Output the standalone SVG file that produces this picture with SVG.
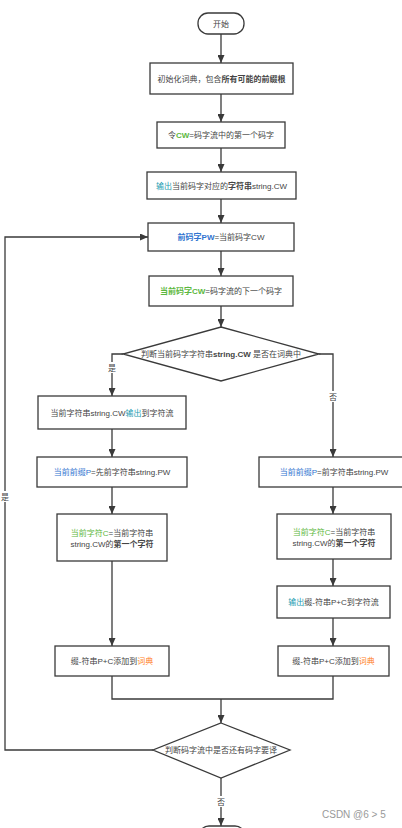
<svg xmlns="http://www.w3.org/2000/svg" width="402" height="828" viewBox="0 0 402 828">
<style>
.box{fill:#fff;stroke:#3a3a3a;stroke-width:1.3}
.ln{fill:none;stroke:#3a3a3a;stroke-width:1.3}
text{font-family:"Liberation Sans","Noto Sans CJK SC",sans-serif;font-size:8px;fill:#444;text-anchor:middle}
.b{font-weight:bold}
.blue{fill:#2f74d0}
.green{fill:#5cb840}
.teal{fill:#1a9bb0}
.orange{fill:#ff7f27}
.lbl{fill:#fff}
.wm{font-size:10px;fill:#999;text-anchor:start}
</style>
<defs>
<marker id="arr" markerWidth="8" markerHeight="7" refX="8" refY="3.5" orient="auto" markerUnits="userSpaceOnUse">
<path d="M0,0 L8,3.5 L0,7 z" fill="#3a3a3a"/>
</marker>
</defs>
<rect width="402" height="828" fill="#fff"/>
<g id="connectors">
<line class="ln" x1="221" y1="34" x2="221" y2="63" marker-end="url(#arr)"/>
<line class="ln" x1="221" y1="94" x2="221" y2="122" marker-end="url(#arr)"/>
<line class="ln" x1="221" y1="148" x2="221" y2="172" marker-end="url(#arr)"/>
<line class="ln" x1="221" y1="199" x2="221" y2="223" marker-end="url(#arr)"/>
<line class="ln" x1="221" y1="251" x2="221" y2="276" marker-end="url(#arr)"/>
<line class="ln" x1="221" y1="306" x2="221" y2="327" marker-end="url(#arr)"/>
<polyline class="ln" points="123,354 112,354 112,396" marker-end="url(#arr)"/>
<polyline class="ln" points="319,354 333,354 333,457" marker-end="url(#arr)"/>
<line class="ln" x1="112" y1="429" x2="112" y2="457" marker-end="url(#arr)"/>
<line class="ln" x1="112" y1="487" x2="112" y2="514" marker-end="url(#arr)"/>
<line class="ln" x1="112" y1="561" x2="112" y2="646" marker-end="url(#arr)"/>
<line class="ln" x1="333" y1="487" x2="333" y2="514" marker-end="url(#arr)"/>
<line class="ln" x1="333" y1="559" x2="333" y2="586" marker-end="url(#arr)"/>
<line class="ln" x1="333" y1="618" x2="333" y2="646" marker-end="url(#arr)"/>
<polyline class="ln" points="112,676 112,699 333,699 333,676"/>
<line class="ln" x1="221" y1="699" x2="221" y2="723" marker-end="url(#arr)"/>
<polyline class="ln" points="153,750 5,750 5,237 148,237" marker-end="url(#arr)"/>
<line class="ln" x1="221" y1="778" x2="221" y2="826" marker-end="url(#arr)"/>
<rect class="lbl" x="107" y="362" width="10" height="11"/>
<text x="112" y="371">是</text>
<rect class="lbl" x="328" y="391" width="10" height="11"/>
<text x="333" y="400">否</text>
<rect class="lbl" x="0" y="491" width="10" height="11"/>
<text x="5" y="500">是</text>
<rect class="lbl" x="216" y="796" width="10" height="11"/>
<text x="221" y="805">否</text>
</g>
<g id="start">
<rect class="box" x="198" y="13" width="46" height="21" rx="10"/>
<text x="221" y="26.5">开始</text>
</g>
<g id="init">
<rect class="box" x="150" y="63" width="143" height="31"/>
<text x="221.5" y="81.5">初始化词典，包含<tspan class="b">所有可能的前缀根</tspan></text>
</g>
<g id="firstcw">
<rect class="box" x="157" y="122" width="128" height="26"/>
<text x="221" y="138">令<tspan class="b green">CW</tspan>=码字流中的第一个码字</text>
</g>
<g id="outcw">
<rect class="box" x="147" y="172" width="149" height="27"/>
<text x="221.5" y="188.5"><tspan class="teal">输出</tspan>当前码字对应的<tspan class="b">字符串</tspan>string.CW</text>
</g>
<g id="pw">
<rect class="box" x="148" y="223" width="146" height="28"/>
<text x="221" y="240"><tspan class="b blue">前码字PW</tspan>=当前码字CW</text>
</g>
<g id="nextcw">
<rect class="box" x="149" y="276" width="144" height="30"/>
<text x="221" y="294"><tspan class="b green">当前码字CW</tspan>=码字流的下一个码字</text>
</g>
<g id="dec1">
<polygon class="box" points="221,327 319,354 221,381 123,354"/>
<text x="221" y="357">判断当前码字字符串<tspan class="b">string.CW</tspan> 是否在词典中</text>
</g>
<g id="a1">
<rect class="box" x="38" y="396" width="148" height="33"/>
<text x="112" y="415.5">当前字符串string.CW<tspan class="teal">输出</tspan>到字符流</text>
</g>
<g id="a2">
<rect class="box" x="37" y="457" width="150" height="30"/>
<text x="112" y="475"><tspan class="blue">当前前缀P</tspan>=先前字符串string.PW</text>
</g>
<g id="a3">
<rect class="box" x="57" y="514" width="110" height="47"/>
<text x="112" y="536"><tspan class="green">当前字符C</tspan>=当前字符串</text>
<text x="112" y="547">string.CW的<tspan class="b">第一个字符</tspan></text>
</g>
<g id="a4">
<rect class="box" x="55" y="646" width="114" height="30"/>
<text x="112" y="664">缀-符串P+C添加到<tspan class="orange">词典</tspan></text>
</g>
<g id="b1">
<rect class="box" x="259" y="457" width="150" height="30"/>
<text x="334" y="475"><tspan class="blue">当前前缀P</tspan>=前字符串string.PW</text>
</g>
<g id="b2">
<rect class="box" x="277" y="514" width="114" height="45"/>
<text x="334" y="535"><tspan class="green">当前字符C</tspan>=当前字符串</text>
<text x="334" y="546">string.CW的<tspan class="b">第一个字符</tspan></text>
</g>
<g id="b3">
<rect class="box" x="277" y="586" width="113" height="32"/>
<text x="333.5" y="605"><tspan class="teal">输出</tspan>缀-符串P+C到字符流</text>
</g>
<g id="b4">
<rect class="box" x="278" y="646" width="111" height="30"/>
<text x="333.5" y="664">缀-符串P+C添加到<tspan class="orange">词典</tspan></text>
</g>
<g id="dec2">
<polygon class="box" points="221,723 290,750 221,778 153,750"/>
<text x="221" y="753">判断码字流中是否还有码字要译</text>
</g>
<g id="end">
<rect class="box" x="199" y="826" width="46" height="21" rx="10"/>
</g>
<text class="wm" x="322" y="818">CSDN @6 &gt; 5</text>
</svg>
